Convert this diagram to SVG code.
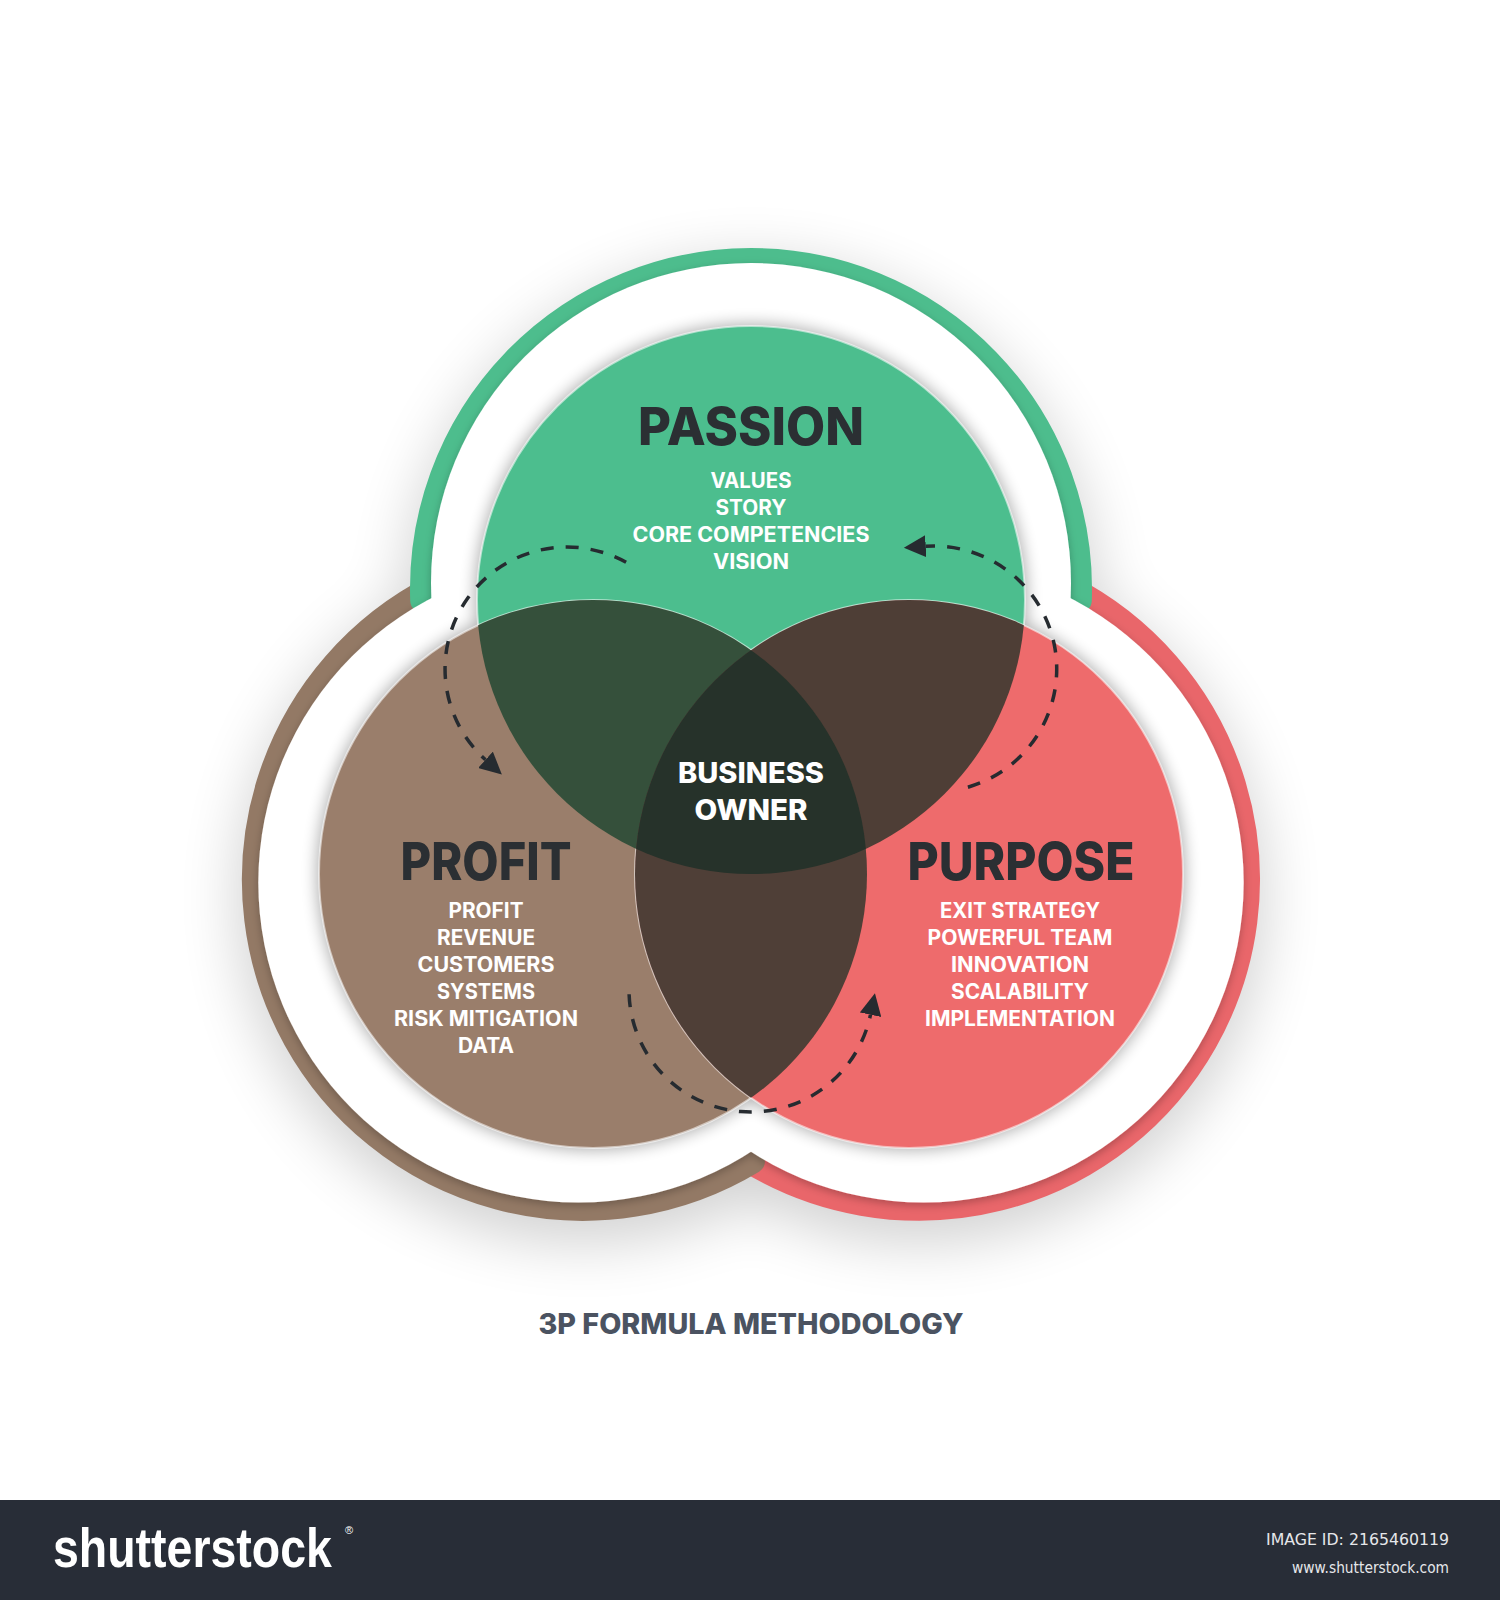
<svg xmlns="http://www.w3.org/2000/svg" width="1500" height="1600" viewBox="0 0 1500 1600">
  <defs>
    <style>
      .title { font-family: Inter, "Liberation Sans", sans-serif; font-weight: 800; fill: #2b2f33; text-anchor: middle; }
      .item { font-family: Inter, "Liberation Sans", sans-serif; font-weight: 700; font-size: 21px; fill: #ffffff; text-anchor: middle; }
      .band { fill: none; stroke-width: 24; stroke-linecap: round; }
      .dash { fill: none; stroke: #262b30; stroke-width: 3.5; stroke-dasharray: 13 12; marker-end: url(#arrow); }
      .edge { stroke: #ffffff; stroke-opacity: 0.55; stroke-width: 2; }
      .foot { font-family: "DejaVu Sans", "Liberation Sans", sans-serif; fill: #e6e7ea; text-anchor: end; }
    </style>
    <filter id="bigShadow" x="-30%" y="-30%" width="160%" height="160%">
      <feGaussianBlur stdDeviation="30"/>
    </filter>
    <filter id="softShadow" x="-20%" y="-20%" width="140%" height="140%">
      <feGaussianBlur stdDeviation="8"/>
    </filter>
    <filter id="whiteShadow" x="-10%" y="-10%" width="120%" height="120%">
      <feDropShadow dx="0" dy="3" stdDeviation="4" flood-color="#000" flood-opacity="0.25"/>
    </filter>
    <clipPath id="cG"><circle cx="751" cy="600" r="274"/></clipPath>
    <clipPath id="cL"><circle cx="593" cy="874" r="274"/></clipPath>
    <clipPath id="cR"><circle cx="909" cy="874" r="274"/></clipPath>
    <marker id="arrow" markerUnits="userSpaceOnUse" markerWidth="24" markerHeight="22" viewBox="0 0 24 22" refX="0" refY="11" orient="auto">
      <path d="M0,0 L22,11 L0,22 z" fill="#262b30"/>
    </marker>
  </defs>

  <rect x="0" y="0" width="1500" height="1600" fill="#ffffff"/>

  <!-- soft background shadow -->
  <g id="backdrop-shadow" filter="url(#bigShadow)" opacity="0.18" transform="translate(0,18)">
    <circle cx="751" cy="589" r="345" fill="#000"/>
    <circle cx="583.5" cy="879.5" r="345" fill="#000"/>
    <circle cx="918.5" cy="879.5" r="345" fill="#000"/>
  </g>

  <!-- outer coloured rings -->
  <g id="rings">
    <path class="band" stroke="#e9666a" d="M 1067.9 586.4 A 329 329 0 1 1 744.2 1158.5"/>
    <path class="band" stroke="#937965" d="M 434.1 586.4 A 329 329 0 1 0 752.9 1161.5"/>
    <path class="band" stroke="#4dbd8d" d="M 422.2 600.5 A 329 329 0 1 1 1079.8 600.5"/>
    <g filter="url(#whiteShadow)">
      <g fill="#ffffff">
        <circle cx="751" cy="583" r="320"/>
        <circle cx="578.3" cy="882.5" r="320"/>
        <circle cx="923.7" cy="882.5" r="320"/>
      </g>
    </g>
  </g>

  <!-- shadow of inner discs on the white ring -->
  <g id="disc-shadow" filter="url(#softShadow)" opacity="0.32" fill="#000">
    <circle cx="751" cy="600" r="276"/>
    <circle cx="593" cy="874" r="276"/>
    <circle cx="909" cy="874" r="276"/>
  </g>

  <g id="node-passion">
    <circle class="edge" cx="751" cy="600" r="274" fill="#4cbe8e"/>
    <text class="title" x="751" y="445" font-size="52" textLength="226" lengthAdjust="spacingAndGlyphs">PASSION</text>
    <text class="item" x="751" y="488" textLength="81" lengthAdjust="spacingAndGlyphs">VALUES</text>
    <text class="item" x="751" y="515" textLength="71" lengthAdjust="spacingAndGlyphs">STORY</text>
    <text class="item" x="751" y="542" textLength="237" lengthAdjust="spacingAndGlyphs">CORE COMPETENCIES</text>
    <text class="item" x="751" y="569" textLength="76" lengthAdjust="spacingAndGlyphs">VISION</text>
  </g>

  <g id="node-profit">
    <circle class="edge" cx="593" cy="874" r="274" fill="#9a7e6b"/>
    <text class="title" x="486" y="880" font-size="52" textLength="171" lengthAdjust="spacingAndGlyphs">PROFIT</text>
    <text class="item" x="486" y="918" textLength="75" lengthAdjust="spacingAndGlyphs">PROFIT</text>
    <text class="item" x="486" y="945" textLength="98" lengthAdjust="spacingAndGlyphs">REVENUE</text>
    <text class="item" x="486" y="972" textLength="137" lengthAdjust="spacingAndGlyphs">CUSTOMERS</text>
    <text class="item" x="486" y="999" textLength="98" lengthAdjust="spacingAndGlyphs">SYSTEMS</text>
    <text class="item" x="486" y="1026" textLength="184" lengthAdjust="spacingAndGlyphs">RISK MITIGATION</text>
    <text class="item" x="486" y="1053" textLength="56" lengthAdjust="spacingAndGlyphs">DATA</text>
  </g>

  <g id="node-purpose">
    <circle class="edge" cx="909" cy="874" r="274" fill="#ee6b6c"/>
    <text class="title" x="1021" y="880" font-size="52" textLength="227" lengthAdjust="spacingAndGlyphs">PURPOSE</text>
    <text class="item" x="1020" y="918" textLength="160" lengthAdjust="spacingAndGlyphs">EXIT STRATEGY</text>
    <text class="item" x="1020" y="945" textLength="185" lengthAdjust="spacingAndGlyphs">POWERFUL TEAM</text>
    <text class="item" x="1020" y="972" textLength="138" lengthAdjust="spacingAndGlyphs">INNOVATION</text>
    <text class="item" x="1020" y="999" textLength="138" lengthAdjust="spacingAndGlyphs">SCALABILITY</text>
    <text class="item" x="1020" y="1026" textLength="190" lengthAdjust="spacingAndGlyphs">IMPLEMENTATION</text>
  </g>

  <g id="overlaps">
    <circle cx="593" cy="874" r="274" fill="#35503b" clip-path="url(#cG)"/>
    <circle cx="909" cy="874" r="274" fill="#4e3e36" clip-path="url(#cG)"/>
    <circle cx="909" cy="874" r="274" fill="#4f3f37" clip-path="url(#cL)"/>
  </g>

  <g id="node-business-owner">
    <g clip-path="url(#cL)">
      <circle cx="909" cy="874" r="274" fill="#26322a" clip-path="url(#cG)"/>
    </g>
    <text class="title" x="751" y="783" font-size="28" style="fill:#ffffff" textLength="146" lengthAdjust="spacingAndGlyphs">BUSINESS</text>
    <text class="title" x="751" y="820" font-size="28" style="fill:#ffffff" textLength="113" lengthAdjust="spacingAndGlyphs">OWNER</text>
  </g>

  <g id="connectors">
    <path class="dash" d="M 626.1 562.3 A 122 122 0 0 0 485.5 759.8"/>
    <path class="dash" d="M 629.1 994.3 A 122 122 0 0 0 870.5 1014.7"/>
    <path class="dash" d="M 967.9 787.2 A 123 123 0 0 0 925.8 546.3"/>
  </g>

  <text id="caption" class="title" x="751" y="1334" font-size="28" style="fill:#4b5361" textLength="425" lengthAdjust="spacingAndGlyphs">3P FORMULA METHODOLOGY</text>

  <g id="footer">
    <rect x="0" y="1500" width="1500" height="100" fill="#282d37"/>
    <text transform="translate(53,1567) scale(0.83,1)" font-family="'Liberation Sans', sans-serif" font-weight="700" font-size="56" fill="#ffffff">shutterstock</text>
    <text x="345" y="1534" font-family="'Liberation Sans', sans-serif" font-size="11" fill="#ffffff">®</text>
    <text class="foot" x="1449" y="1545" font-size="16" textLength="183" lengthAdjust="spacingAndGlyphs">IMAGE ID: 2165460119</text>
    <text class="foot" x="1449" y="1573" font-size="15" textLength="157" lengthAdjust="spacingAndGlyphs">www.shutterstock.com</text>
  </g>
</svg>
